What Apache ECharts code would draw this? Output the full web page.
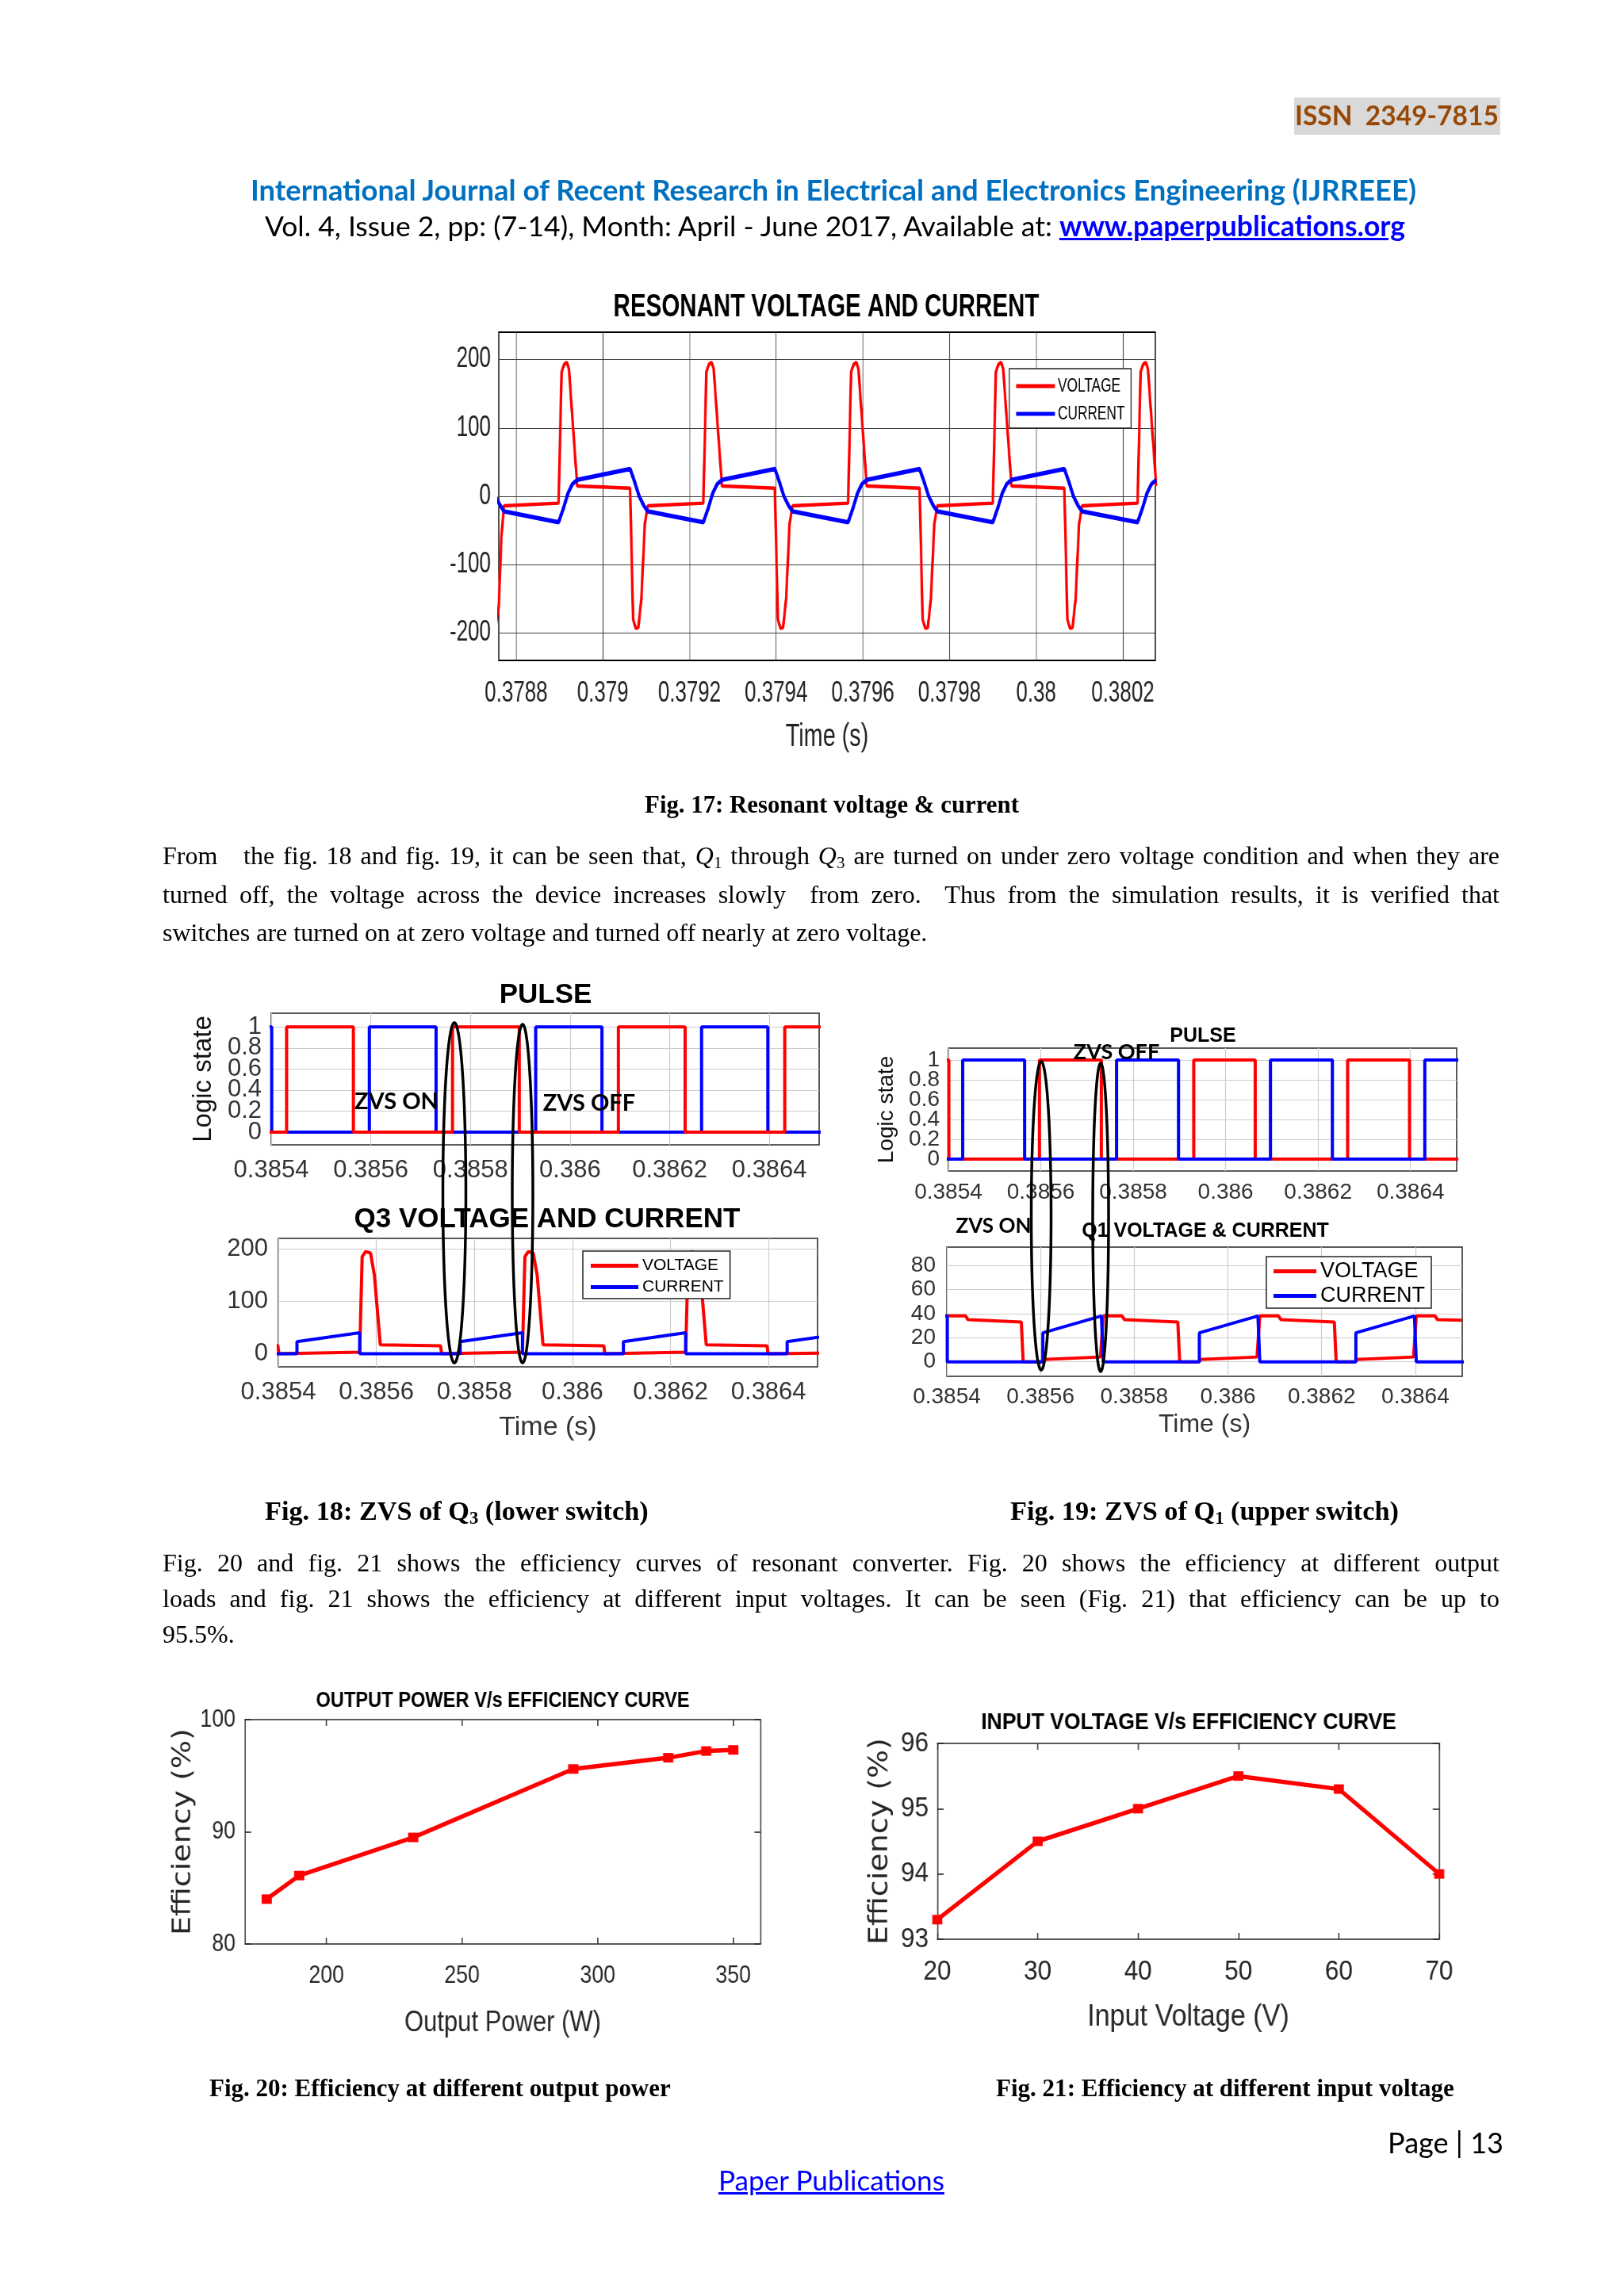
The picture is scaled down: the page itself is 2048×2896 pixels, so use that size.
<!DOCTYPE html>
<html><head><meta charset="utf-8"><title>Resonant converter figures</title>
<script src="https://cdn.jsdelivr.net/npm/echarts@6.0.0/dist/echarts.min.js"></script>
<style>
html,body{margin:0;padding:0;background:#fff;}
#page{position:relative;width:2048px;height:2896px;overflow:hidden;background:#fff;}
#chart{position:absolute;left:0;top:0;width:2048px;height:2896px;}
.cz{position:absolute;transform-origin:0 0;}
.t{position:absolute;white-space:pre;line-height:1;margin:0;padding:0;left:0;top:0;}
.serif{font-family:"Liberation Serif","Times New Roman",serif;color:#000;}
.lato{font-family:Lato,"Open Sans",sans-serif;color:#000;}
sub{font-size:0.66em;vertical-align:-0.22em;line-height:1;}
a{color:#0000ff;text-decoration:underline;font-size:inherit;}
#issnbox{position:absolute;left:1632px;top:123px;width:260px;height:47px;background:#d9d9d9;}
</style></head>
<body><div id="page">
<div id="issnbox"></div>
<div id="chart"></div>
<div id="c17" class="cz" style="left:560px;top:340px;width:1278px;height:620px;transform:scaleX(0.72);"></div>
<div id="c20" class="cz" style="left:200px;top:2110px;width:907px;height:490px;transform:scaleX(0.86);"></div>
<div id="c21" class="cz" style="left:1080px;top:2140px;width:867px;height:460px;transform:scaleX(0.9);"></div>

<div class="t lato" data-x="1633" data-base="159" data-align="left" data-w="257" data-fit="size" data-size="34" data-r="0.887" style="font-weight:bold;color:#984806;">ISSN  2349-7815</div>
<div class="t lato" data-x="1051" data-base="253" data-align="center" data-w="1470" data-fit="size" data-size="31" data-r="0.887" style="font-weight:bold;color:#0070c0;">International Journal of Recent Research in Electrical and Electronics Engineering (IJRREEE)</div>
<div class="t lato" data-x="1053" data-base="299" data-align="center" data-w="1439" data-fit="size" data-size="31" data-r="0.887">Vol. 4, Issue 2, pp: (7-14), Month: April - June 2017, Available at: <a style="font-weight:bold">www.paperpublications.org</a></div>

<div class="t serif" data-x="1049" data-base="1026" data-align="center" data-w="472" data-fit="size" data-size="28" data-r="0.8375" style="font-weight:bold;">Fig. 17: Resonant voltage &amp; current</div>

<div class="t serif" data-x="205" data-base="1090" data-align="left" data-w="1686" data-fit="justify" data-size="32" data-r="0.8375">From   the fig. 18 and fig. 19, it can be seen that, <i>Q</i><sub>1</sub> through <i>Q</i><sub>3</sub> are turned on under zero voltage condition and when they are</div>
<div class="t serif" data-x="205" data-base="1139" data-align="left" data-w="1686" data-fit="justify" data-size="32" data-r="0.8375">turned off, the voltage across the device increases slowly  from zero.  Thus from the simulation results, it is verified that</div>
<div class="t serif" data-x="205" data-base="1187" data-align="left" data-size="32" data-r="0.8375">switches are turned on at zero voltage and turned off nearly at zero voltage.</div>

<div class="t serif" data-x="334" data-base="1917" data-align="left" data-w="484" data-fit="size" data-size="28" data-r="0.8375" style="font-weight:bold;">Fig. 18: ZVS of Q<sub>3</sub> (lower switch)</div>
<div class="t serif" data-x="1274" data-base="1917" data-align="left" data-w="490" data-fit="size" data-size="28" data-r="0.8375" style="font-weight:bold;">Fig. 19: ZVS of Q<sub>1</sub> (upper switch)</div>

<div class="t serif" data-x="205" data-base="1982" data-align="left" data-w="1686" data-fit="justify" data-size="32" data-r="0.8375">Fig. 20 and fig. 21 shows the efficiency curves of resonant converter. Fig. 20 shows the efficiency at different output</div>
<div class="t serif" data-x="205" data-base="2027" data-align="left" data-w="1686" data-fit="justify" data-size="32" data-r="0.8375">loads and fig. 21 shows the efficiency at different input voltages. It can be seen (Fig. 21) that efficiency can be up to</div>
<div class="t serif" data-x="205" data-base="2072" data-align="left" data-size="32" data-r="0.8375">95.5%.</div>

<div class="t serif" data-x="264" data-base="2644" data-align="left" data-w="582" data-fit="size" data-size="28" data-r="0.8375" style="font-weight:bold;">Fig. 20: Efficiency at different output power</div>
<div class="t serif" data-x="1256" data-base="2644" data-align="left" data-w="578" data-fit="size" data-size="28" data-r="0.8375" style="font-weight:bold;">Fig. 21: Efficiency at different input voltage</div>

<div class="t lato" data-x="1896" data-base="2716" data-align="right" data-w="146" data-fit="size" data-size="34" data-r="0.887">Page | 13</div>
<div class="t lato" data-x="906" data-base="2763" data-align="left" data-w="285" data-fit="size" data-size="34" data-r="0.887"><a>Paper Publications</a></div>
</div>

<script>
// ---------------- DATA ----------------
// Fig. 17: resonant voltage & current
const timeTicks17 = [0.3788, 0.379, 0.3792, 0.3794, 0.3796, 0.3798, 0.38, 0.3802];
const valueTicks17 = [-200, -100, 0, 100, 200];
const resonantVoltage = [
  [0.378745,-193],[0.378752,-192],[0.378760,-160],[0.378766,-60],[0.378772,-14],
  [0.378898,-10],[0.378905,182],[0.378911,193],[0.378917,196],[0.378922,186],[0.378927,140],[0.378941,15],[0.379063,12],[0.379070,-180],[0.379076,-193],[0.379082,-192],[0.379089,-150],[0.379097,-40],[0.379104,-14],
  [0.379232,-10],[0.379239,182],[0.379245,193],[0.379251,196],[0.379256,186],[0.379261,140],[0.379275,15],[0.379397,12],[0.379404,-180],[0.379410,-193],[0.379416,-192],[0.379423,-150],[0.379431,-40],[0.379438,-14],
  [0.379566,-10],[0.379573,182],[0.379579,193],[0.379585,196],[0.379590,186],[0.379595,140],[0.379609,15],[0.379731,12],[0.379738,-180],[0.379744,-193],[0.379750,-192],[0.379757,-150],[0.379765,-40],[0.379772,-14],
  [0.379900,-10],[0.379907,182],[0.379913,193],[0.379919,196],[0.379924,186],[0.379929,140],[0.379943,15],[0.380065,12],[0.380072,-180],[0.380078,-193],[0.380084,-192],[0.380091,-150],[0.380099,-40],[0.380106,-14],
  [0.380234,-10],[0.380241,182],[0.380247,193],[0.380253,196],[0.380258,186],[0.380263,140],[0.380277,15]
];
const resonantCurrent = [
  [0.378752,0],[0.378762,-12],[0.378772,-22],
  [0.378898,-38],[0.378909,-18],[0.378920,5],[0.378930,18],[0.378941,24],[0.379063,40],[0.379073,22],[0.379084,0],[0.379095,-14],[0.379104,-22],
  [0.379232,-38],[0.379243,-18],[0.379254,5],[0.379264,18],[0.379275,24],[0.379397,40],[0.379407,22],[0.379418,0],[0.379429,-14],[0.379438,-22],
  [0.379566,-38],[0.379577,-18],[0.379588,5],[0.379598,18],[0.379609,24],[0.379731,40],[0.379741,22],[0.379752,0],[0.379763,-14],[0.379772,-22],
  [0.379900,-38],[0.379911,-18],[0.379922,5],[0.379932,18],[0.379943,24],[0.380065,40],[0.380075,22],[0.380086,0],[0.380097,-14],[0.380106,-22],
  [0.380234,-38],[0.380245,-18],[0.380256,5],[0.380266,18],[0.380277,24]
];

// Fig. 18 / 19 shared ticks (logic ticks split in two interleaved sets)
const timeTicksZvs = [0.3854, 0.3856, 0.3858, 0.386, 0.3862, 0.3864];
const logicTicksA = [0, 0.4, 0.8];
const logicTicksB = [0.2, 0.6, 1];

// Fig. 18: ZVS of Q3 (gate pulses as [time, new state])
const q3PulseRed  = [[0.3853,0],[0.385431,1],[0.385565,0],[0.385764,1],[0.385898,0],[0.386097,1],[0.386231,0],[0.386431,1],[0.3866,1]];
const q3PulseBlue = [[0.3853,1],[0.385401,0],[0.385597,1],[0.385731,0],[0.385931,1],[0.386064,0],[0.386264,1],[0.386397,0],[0.3866,0]];
const q3ValueTicks = [0, 100, 200];
const q3Voltage = [
  [0.3853,17],[0.385399,16],[0.385401,0],[0.385566,3],[0.385571,185],[0.385578,195],[0.385588,192],[0.385596,150],[0.385608,17],[0.385731,15],[0.385733,0],
  [0.385898,3],[0.385903,185],[0.385910,195],[0.385920,192],[0.385928,150],[0.385940,17],[0.386064,15],[0.386066,0],
  [0.386231,3],[0.386236,185],[0.386243,195],[0.386253,192],[0.386261,150],[0.386273,17],[0.386397,15],[0.386399,0],[0.3866,2]
];
const q3Current = [
  [0.3853,0],[0.385438,0],[0.385438,23],[0.385566,40],[0.385566,0],
  [0.385771,0],[0.385771,23],[0.385898,40],[0.385898,0],
  [0.386104,0],[0.386104,23],[0.386231,40],[0.386231,0],
  [0.386438,0],[0.386438,23],[0.386565,40]
];

// Fig. 19: ZVS of Q1
const q1PulseRed  = [[0.3853,1],[0.385401,0],[0.385597,1],[0.385731,0],[0.385931,1],[0.386064,0],[0.386264,1],[0.386398,0],[0.3866,0]];
const q1PulseBlue = [[0.3853,0],[0.385431,1],[0.385565,0],[0.385764,1],[0.385898,0],[0.386097,1],[0.386231,0],[0.386431,1],[0.3866,1]];
const q1ValueTicks = [0, 20, 40, 60, 80];
const q1Voltage = [
  [0.3854,38],[0.38544,38],[0.385445,35],[0.385559,33],[0.385563,0],[0.385605,0],[0.385606,2],[0.385728,4],
  [0.385734,38],[0.385774,38],[0.385779,35],[0.385893,33],[0.385897,0],[0.385939,0],[0.38594,2],[0.386062,4],
  [0.386068,38],[0.386108,38],[0.386113,35],[0.386227,33],[0.386231,0],[0.386273,0],[0.386274,2],[0.386396,4],
  [0.386402,38],[0.386442,38],[0.386447,35],[0.3865,34.5]
];
const q1Current = [
  [0.3853,38],[0.385401,38],[0.385401,0],[0.385605,0],[0.385605,24],[0.38573,38],[0.385734,0],
  [0.385939,0],[0.385939,24],[0.386064,38],[0.386068,0],
  [0.386273,0],[0.386273,24],[0.386398,38],[0.386402,0],[0.3866,0]
];

// Fig. 20: efficiency vs output power
const outputPowerW = [178, 190, 232, 291, 326, 340, 350];
const effVsPower   = [84.0, 86.1, 89.5, 95.6, 96.6, 97.2, 97.3];
const powerTicks   = [200, 250, 300, 350];

// Fig. 21: efficiency vs input voltage
const inputVoltageV = [20, 30, 40, 50, 60, 70];
const effVsVoltage  = [93.3, 94.5, 95.0, 95.5, 95.3, 94.0];

// ---------------- STYLE / LAYOUT ----------------
const ARIAL = '"Liberation Sans",Arial,sans-serif';
const DEJAVU = '"DejaVu Sans",sans-serif';
const LATO = 'Lato,"Open Sans",sans-serif';
const RED = '#ff0000', BLUE = '#0000ff';
const fmtNum = v => String(+(+v).toFixed(6));

function customAxis(o) {
  const ax = {
    gridIndex: o.grid, type: 'value', min: o.min, max: o.max, position: o.position,
    axisLine: { show: false },
    axisTick: { show: false, customValues: o.ticks },
    axisLabel: { customValues: o.ticks, formatter: fmtNum, fontFamily: o.font, fontSize: o.size, color: o.color || '#333',
      margin: o.margin, showMinLabel: true, showMaxLabel: true, hideOverlap: false },
    splitLine: { show: true, lineStyle: { color: o.gridColor, width: o.gridWidth || 1.2 } }
  };
  if (o.name) {
    ax.name = o.name; ax.nameLocation = 'middle'; ax.nameGap = o.nameGap; ax.nameMoveOverlap = false;
    if (o.rotate) ax.nameRotate = 90;
    ax.nameTextStyle = { fontFamily: o.nameFont || o.font, fontSize: o.nameSize, color: o.nameColor || '#333' };
  }
  return ax;
}
function boxAxis(o) {
  const lc = { color: '#262626', width: 1.6 };
  const ax = {
    gridIndex: o.grid || 0, type: 'value', min: o.min, max: o.max, position: o.position,
    axisLine: { show: true, onZero: false, lineStyle: lc },
    axisTick: { show: true, inside: true, length: o.tickLen || 8, lineStyle: lc },
    axisLabel: { show: !!o.size, fontFamily: ARIAL, fontSize: o.size || 10, color: '#262626', margin: o.margin || 8,
      showMinLabel: true, showMaxLabel: true },
    splitLine: { show: false }
  };
  if (o.ticks) { ax.axisTick.customValues = o.ticks; ax.axisLabel.customValues = o.ticks; }
  else ax.interval = o.interval;
  if (o.name) {
    ax.name = o.name; ax.nameLocation = 'middle'; ax.nameGap = o.nameGap; ax.nameMoveOverlap = false;
    if (o.rotate) ax.nameRotate = 90;
    ax.nameTextStyle = { fontFamily: o.nameFont, fontSize: o.nameSize, color: '#262626' };
  }
  return ax;
}
function gtext(text, x, y, font, fill) {
  return { type: 'text', x: x, y: y, z: 100,
    style: { text: text, font: font, fill: fill || '#000', textAlign: 'center', textVerticalAlign: 'middle', align: 'center', verticalAlign: 'middle' } };
}
function ellipse(cx, cy, rx, ry) {
  const pts = [];
  for (let i = 0; i < 96; i++) { const a = i / 96 * Math.PI * 2; pts.push([cx + rx * Math.cos(a), cy + ry * Math.sin(a)]); }
  return { type: 'polygon', z: 110, shape: { points: pts }, style: { fill: 'none', stroke: '#000', lineWidth: 3.5 } };
}
function lineSeries(name, data, xi, color, width, extra) {
  return Object.assign({ name: name, type: 'line', xAxisIndex: xi, yAxisIndex: xi, data: data,
    showSymbol: false, symbol: 'none', lineStyle: { color: color, width: width }, itemStyle: { color: color },
    animation: false, silent: true }, extra || {});
}
function legendBox(o) {
  return { data: ['VOLTAGE', 'CURRENT'], orient: 'vertical', left: o.left, top: o.top, icon: 'rect',
    itemWidth: o.iw, itemHeight: 5, itemGap: o.gap, padding: o.pad, backgroundColor: '#fff',
    borderColor: '#222', borderWidth: 1.5, borderRadius: 0, selectedMode: false, z: 20,
    textStyle: { fontFamily: o.font, fontSize: o.size, color: '#000' } };
}
const gridBase = { containLabel: false, outerBoundsMode: 'none' };

// ---- Fig. 17 (condensed container, scaleX 0.72) ----
const option17 = {
  animation: false, backgroundColor: 'transparent',
  grid: [Object.assign({ left: 95.8, top: 79, width: 1150, height: 414, show: true, borderColor: '#000', borderWidth: 1.8, backgroundColor: '#fff' }, gridBase)],
  xAxis: [customAxis({ grid: 0, position: 'bottom', min: 0.37876, max: 0.380275, ticks: timeTicks17, font: ARIAL, size: 36, color: '#222', margin: 24, gridColor: '#3c3c3c', name: 'Time (s)', nameSize: 40, nameGap: 77, nameColor: '#222' })],
  yAxis: [customAxis({ grid: 0, position: 'left', min: -240, max: 240, ticks: valueTicks17, font: ARIAL, size: 36, color: '#222', margin: 14, gridColor: '#3c3c3c' })],
  legend: [legendBox({ left: 990, top: 125, iw: 68, gap: 11, pad: [10, 11, 6, 12], font: ARIAL, size: 24 })],
  series: [
    lineSeries('VOLTAGE', resonantVoltage, 0, RED, 4.5),
    lineSeries('CURRENT', resonantCurrent, 0, BLUE, 5.5)
  ],
  graphic: [gtext('RESONANT VOLTAGE AND CURRENT', 669.4, 48, 'bold 41px ' + ARIAL)]
};

// ---- Fig. 18 / 19 (page coordinates) ----
const optionZvs = {
  animation: false, backgroundColor: 'transparent', textStyle: { fontFamily: ARIAL },
  grid: [
    { left: 342, top: 1278, width: 691, height: 166, show: true, borderColor: '#262626', borderWidth: 1.5, backgroundColor: '#fff' },
    { left: 351, top: 1562, width: 680, height: 162, show: true, borderColor: '#262626', borderWidth: 1.5, backgroundColor: '#fff' },
    { left: 1196, top: 1322, width: 641, height: 155, show: true, borderColor: '#262626', borderWidth: 1.5, backgroundColor: '#fff' },
    { left: 1194, top: 1573, width: 650, height: 163, show: true, borderColor: '#262626', borderWidth: 1.5, backgroundColor: '#fff' }
  ].map(g => Object.assign({}, gridBase, g)),
  xAxis: [
    customAxis({ grid: 0, position: 'bottom', min: 0.3854, max: 0.3865, ticks: timeTicksZvs, font: ARIAL, size: 31, margin: 17, gridColor: '#cdcdcd' }),
    customAxis({ grid: 1, position: 'bottom', min: 0.3854, max: 0.3865, ticks: timeTicksZvs, font: ARIAL, size: 31, margin: 17, gridColor: '#cdcdcd', name: 'Time (s)', nameSize: 34, nameGap: 60 }),
    customAxis({ grid: 2, position: 'bottom', min: 0.3854, max: 0.3865, ticks: timeTicksZvs, font: ARIAL, size: 28, margin: 13, gridColor: '#cdcdcd' }),
    customAxis({ grid: 3, position: 'bottom', min: 0.3854, max: 0.3865, ticks: timeTicksZvs, font: ARIAL, size: 28, margin: 12, gridColor: '#cdcdcd', name: 'Time (s)', nameSize: 32, nameGap: 45 })
  ],
  yAxis: [
    customAxis({ grid: 0, position: 'left', min: -0.12, max: 1.13, ticks: logicTicksA, font: ARIAL, size: 31, margin: 12, gridColor: '#cdcdcd', name: 'Logic state', nameSize: 33, nameGap: 69, rotate: true, nameColor: '#111' }),
    customAxis({ grid: 1, position: 'left', min: -25, max: 220, ticks: q3ValueTicks, font: ARIAL, size: 31, margin: 13, gridColor: '#cdcdcd' }),
    customAxis({ grid: 2, position: 'left', min: -0.12, max: 1.12, ticks: logicTicksA, font: ARIAL, size: 28, margin: 11, gridColor: '#cdcdcd', name: 'Logic state', nameSize: 28, nameGap: 64, rotate: true, nameColor: '#111' }),
    customAxis({ grid: 3, position: 'left', min: -12, max: 95, ticks: q1ValueTicks, font: ARIAL, size: 28, margin: 14, gridColor: '#cdcdcd' }),
    customAxis({ grid: 0, position: 'left', min: -0.12, max: 1.13, ticks: logicTicksB, font: ARIAL, size: 31, margin: 12, gridColor: '#cdcdcd' }),
    customAxis({ grid: 2, position: 'left', min: -0.12, max: 1.12, ticks: logicTicksB, font: ARIAL, size: 28, margin: 11, gridColor: '#cdcdcd' })
  ],
  legend: [
    legendBox({ left: 735, top: 1578, iw: 60, gap: 6, pad: [8, 8, 4, 10], font: ARIAL, size: 21 }),
    legendBox({ left: 1597, top: 1585, iw: 54, gap: 4, pad: [5, 8, 2, 9], font: ARIAL, size: 27 })
  ],
  series: [
    lineSeries('Q1 gate (fig 18)', q3PulseBlue, 0, BLUE, 4, { step: 'end' }),
    lineSeries('Q3 gate (fig 18)', q3PulseRed, 0, RED, 4, { step: 'end' }),
    lineSeries('VOLTAGE', q3Voltage, 1, RED, 4),
    lineSeries('CURRENT', q3Current, 1, BLUE, 4),
    lineSeries('Q1 gate (fig 19)', q1PulseRed, 2, RED, 4, { step: 'end' }),
    lineSeries('Q3 gate (fig 19)', q1PulseBlue, 2, BLUE, 4, { step: 'end' }),
    lineSeries('VOLTAGE', q1Voltage, 3, RED, 4),
    lineSeries('CURRENT', q1Current, 3, BLUE, 4)
  ],
  graphic: [
    gtext('PULSE', 688, 1255, 'bold 35px ' + ARIAL),
    gtext('Q3 VOLTAGE AND CURRENT', 690, 1538, 'bold 35px ' + ARIAL),
    gtext('PULSE', 1517, 1307, 'bold 25px ' + ARIAL),
    gtext('Q1 VOLTAGE & CURRENT', 1520, 1553, 'bold 25px ' + ARIAL),
    gtext('ZVS ON', 500, 1390, 'bold 29px ' + LATO),
    gtext('ZVS OFF', 743, 1392, 'bold 29px ' + LATO),
    gtext('ZVS OFF', 1408, 1327, 'bold 27px ' + LATO),
    gtext('ZVS ON', 1253, 1547, 'bold 26px ' + LATO),
    ellipse(573, 1504.5, 14.5, 214.5),
    ellipse(659, 1505.5, 13, 213.5),
    ellipse(1313, 1533.5, 12.5, 194.5),
    ellipse(1388, 1535.5, 10, 194.5)
  ]
};

// ---- Fig. 20 (scaleX 0.86) ----
const option20 = {
  animation: false, backgroundColor: 'transparent',
  grid: [Object.assign({ left: 126.7, top: 59, width: 755.8, height: 283 }, gridBase)],
  xAxis: [
    boxAxis({ min: 170, max: 360, position: 'bottom', ticks: powerTicks, size: 31, margin: 25, name: 'Output Power (W)', nameFont: ARIAL, nameSize: 36, nameGap: 82 }),
    boxAxis({ min: 170, max: 360, position: 'top', ticks: powerTicks })
  ],
  yAxis: [
    boxAxis({ min: 80, max: 100, position: 'left', interval: 10, size: 31, margin: 14, tickLen: 9, name: 'Efficiency (%)', nameFont: DEJAVU, nameSize: 38, nameGap: 72, rotate: true }),
    boxAxis({ min: 80, max: 100, position: 'right', interval: 10, tickLen: 9 })
  ],
  series: [lineSeries('Efficiency vs output power', outputPowerW.map((w, i) => [w, effVsPower[i]]), 0, RED, 5.5,
    { showSymbol: true, symbol: 'rect', symbolSize: [15, 12], clip: false })],
  graphic: [gtext('OUTPUT POWER V/s EFFICIENCY CURVE', 504.7, 35, 'bold 27.5px ' + ARIAL)]
};

// ---- Fig. 21 (scaleX 0.9) ----
const option21 = {
  animation: false, backgroundColor: 'transparent',
  grid: [Object.assign({ left: 113.3, top: 59, width: 703.3, height: 247 }, gridBase)],
  xAxis: [
    boxAxis({ min: 20, max: 70, position: 'bottom', interval: 10, size: 35, margin: 24, name: 'Input Voltage (V)', nameFont: ARIAL, nameSize: 38, nameGap: 80 }),
    boxAxis({ min: 20, max: 70, position: 'top', interval: 10 })
  ],
  yAxis: [
    boxAxis({ min: 93, max: 96, position: 'left', interval: 1, size: 35, margin: 12, tickLen: 9, name: 'Efficiency (%)', nameFont: DEJAVU, nameSize: 38, nameGap: 61, rotate: true }),
    boxAxis({ min: 93, max: 96, position: 'right', interval: 1, tickLen: 9 })
  ],
  series: [lineSeries('Efficiency vs input voltage', inputVoltageV.map((v, i) => [v, effVsVoltage[i]]), 0, RED, 5.5,
    { showSymbol: true, symbol: 'rect', symbolSize: [14, 12], clip: false })],
  graphic: [gtext('INPUT VOLTAGE V/s EFFICIENCY CURVE', 465.6, 33, 'bold 29.5px ' + ARIAL)]
};

const charts = [
  echarts.init(document.getElementById('chart'), null, { renderer: 'canvas', width: 2048, height: 2896 }),
  echarts.init(document.getElementById('c17'), null, { renderer: 'canvas', width: 1278, height: 620 }),
  echarts.init(document.getElementById('c20'), null, { renderer: 'canvas', width: 907, height: 490 }),
  echarts.init(document.getElementById('c21'), null, { renderer: 'canvas', width: 867, height: 460 })
];
charts[0].setOption(optionZvs);
charts[1].setOption(option17);
charts[2].setOption(option20);
charts[3].setOption(option21);

// ---------------- page text layout ----------------
function layoutTexts() {
  document.querySelectorAll('.t').forEach(el => {
    el.style.wordSpacing = '0px';
    let size = +el.dataset.size;
    el.style.fontSize = size + 'px';
    const W = +el.dataset.w;
    if (W && el.dataset.fit === 'size') {
      const w0 = el.getBoundingClientRect().width;
      size = size * W / w0; el.style.fontSize = size + 'px';
    } else if (W && el.dataset.fit === 'justify') {
      const w0 = el.getBoundingClientRect().width;
      const n = (el.textContent.match(/ /g) || []).length;
      if (n) el.style.wordSpacing = ((W - w0) / n) + 'px';
    }
    const w = el.getBoundingClientRect().width;
    el.style.top = (+el.dataset.base - (+el.dataset.r) * size) + 'px';
    const x = +el.dataset.x, a = el.dataset.align;
    el.style.left = (a === 'center' ? x - w / 2 : a === 'right' ? x - w : x) + 'px';
  });
}
layoutTexts();
if (document.fonts && document.fonts.ready) document.fonts.ready.then(() => { layoutTexts(); });
</script>
</body></html>
